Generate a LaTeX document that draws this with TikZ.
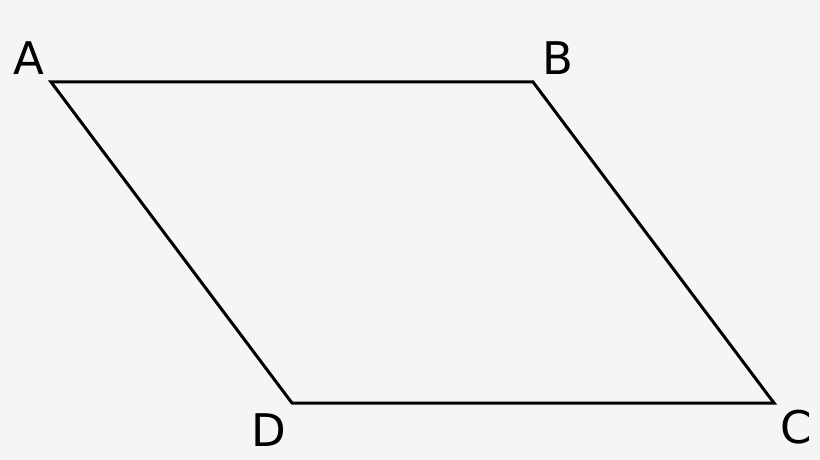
\documentclass[tikz,border=0pt]{standalone}
\usepackage{fontspec}
\setmainfont{DejaVu Sans}
\usetikzlibrary{positioning}
\definecolor{bgrey}{HTML}{F5F5F5}
\tikzset{
vlabel/.style={inner sep=0pt, font=\fontsize{45}{54}\selectfont},
side/.style={draw, line width=3pt, line join=miter}
}

\begin{document}
\begin{tikzpicture}[x=1pt, y=-1pt]
	\fill[bgrey] (0,0) rectangle (820,460);
	\useasboundingbox (0,0) rectangle (820,460);
	\coordinate (A) at (51,82);
	\coordinate (B) at (533,82);
	\coordinate (C) at (774,403);
	\coordinate (D) at (292,403);
	\draw[side] (A) -- (B) -- (C) -- (D) -- cycle;
	\node[vlabel] (la) at (28.5,58.5) {A};
	\node[vlabel] (lb) at (557.5,58.5) {B};
	\node[vlabel] (lc) at (796,427.5) {C};
	\node[vlabel] (ld) at (269,430) {D};
\end{tikzpicture}
\end{document}
